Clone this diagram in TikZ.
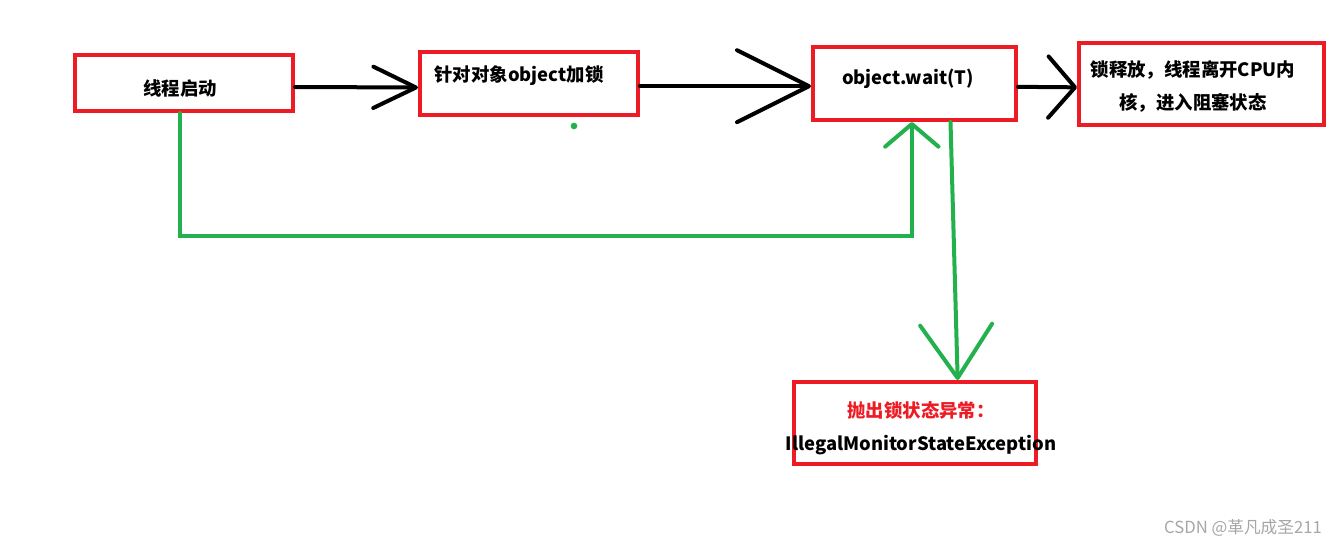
\documentclass[tikz,border=0pt]{standalone}
\usepackage{fontspec}
\setmainfont{Noto Sans CJK SC}
\usetikzlibrary{arrows.meta}
\definecolor{paintred}{RGB}{237,28,36}
\definecolor{paintgreen}{RGB}{34,177,76}
\begin{document}
\begin{tikzpicture}
    [x=0.75pt,y=-0.75pt,
     box/.style 2 args={draw=paintred,line width=3pt,minimum width=#1,minimum height=#2,inner sep=0pt},
     txt/.style={font=\bfseries\fontsize{13.8pt}{24.75pt}\selectfont,inner sep=0pt,align=center},
     blk/.style={draw=black,line width=3pt,line cap=round},
     grn/.style={draw=paintgreen,line width=3pt,line cap=round}]
    \useasboundingbox (0,0) rectangle (1338,549);
    % boxes
    \node[box={163.5pt}{42pt}] (start) at (184,83) {};
    \node[box={163.5pt}{47.25pt}] (lock) at (529,83.5) {};
    \node[box={152.25pt}{54.75pt}] (wait) at (914.5,83.5) {};
    \node[box={183.75pt}{61.5pt}] (release) at (1201.5,84) {};
    \node[box={181.5pt}{61.5pt}] (exc) at (915,423) {};
    \node[txt] (starttxt) at (180,88) {线程启动};
    \node[txt] (locktxt) at (519,76) {针对对象object加锁};
    \node[txt] (waittxt) at (908,79) {object.wait(T)};
    \node[txt] (releasetxt) at (1193,86.5) {锁释放，线程离开CPU内\\核，进入阻塞状态};
    \node[txt] (exctxt) at (921,428.5) {\textcolor{paintred}{抛出锁状态异常：}\\IllegalMonitorStateException};
    \node[font=\fontsize{12.5pt}{15pt}\selectfont,text=black!35,inner sep=0pt] (mark) at (1243,528) {CSDN @革凡成圣211};
    % black arrows
    \draw[blk,-{Straight Barb[length=32pt,width=31pt,round]}]
      ([yshift=-3pt]start.east) -- ([yshift=-3pt]lock.west);
    \draw[blk,-{Straight Barb[length=54pt,width=54pt,round]}]
      ([yshift=-2pt]lock.east) -- ([yshift=-2pt]wait.west);
    \draw[blk,-{Straight Barb[length=20pt,width=46pt,round]}]
      ([yshift=-2.5pt]wait.east) -- ([yshift=-2.5pt]release.west);
    % green arrows
    \coordinate (turn) at (0,236);
    \draw[grn,-{Straight Barb[length=17pt,width=40pt,round]}]
      ([xshift=-3pt]start.south) -- ([xshift=-3pt]start.south |- turn) -| ([xshift=-2pt]wait.south);
    \draw[grn,-{Straight Barb[length=40pt,width=54pt,round]}]
      ([xshift=27pt]wait.south) -- ([xshift=32pt]exc.north);
    \fill[paintgreen] (574,126) circle (2.5pt);
\end{tikzpicture}
\end{document}
